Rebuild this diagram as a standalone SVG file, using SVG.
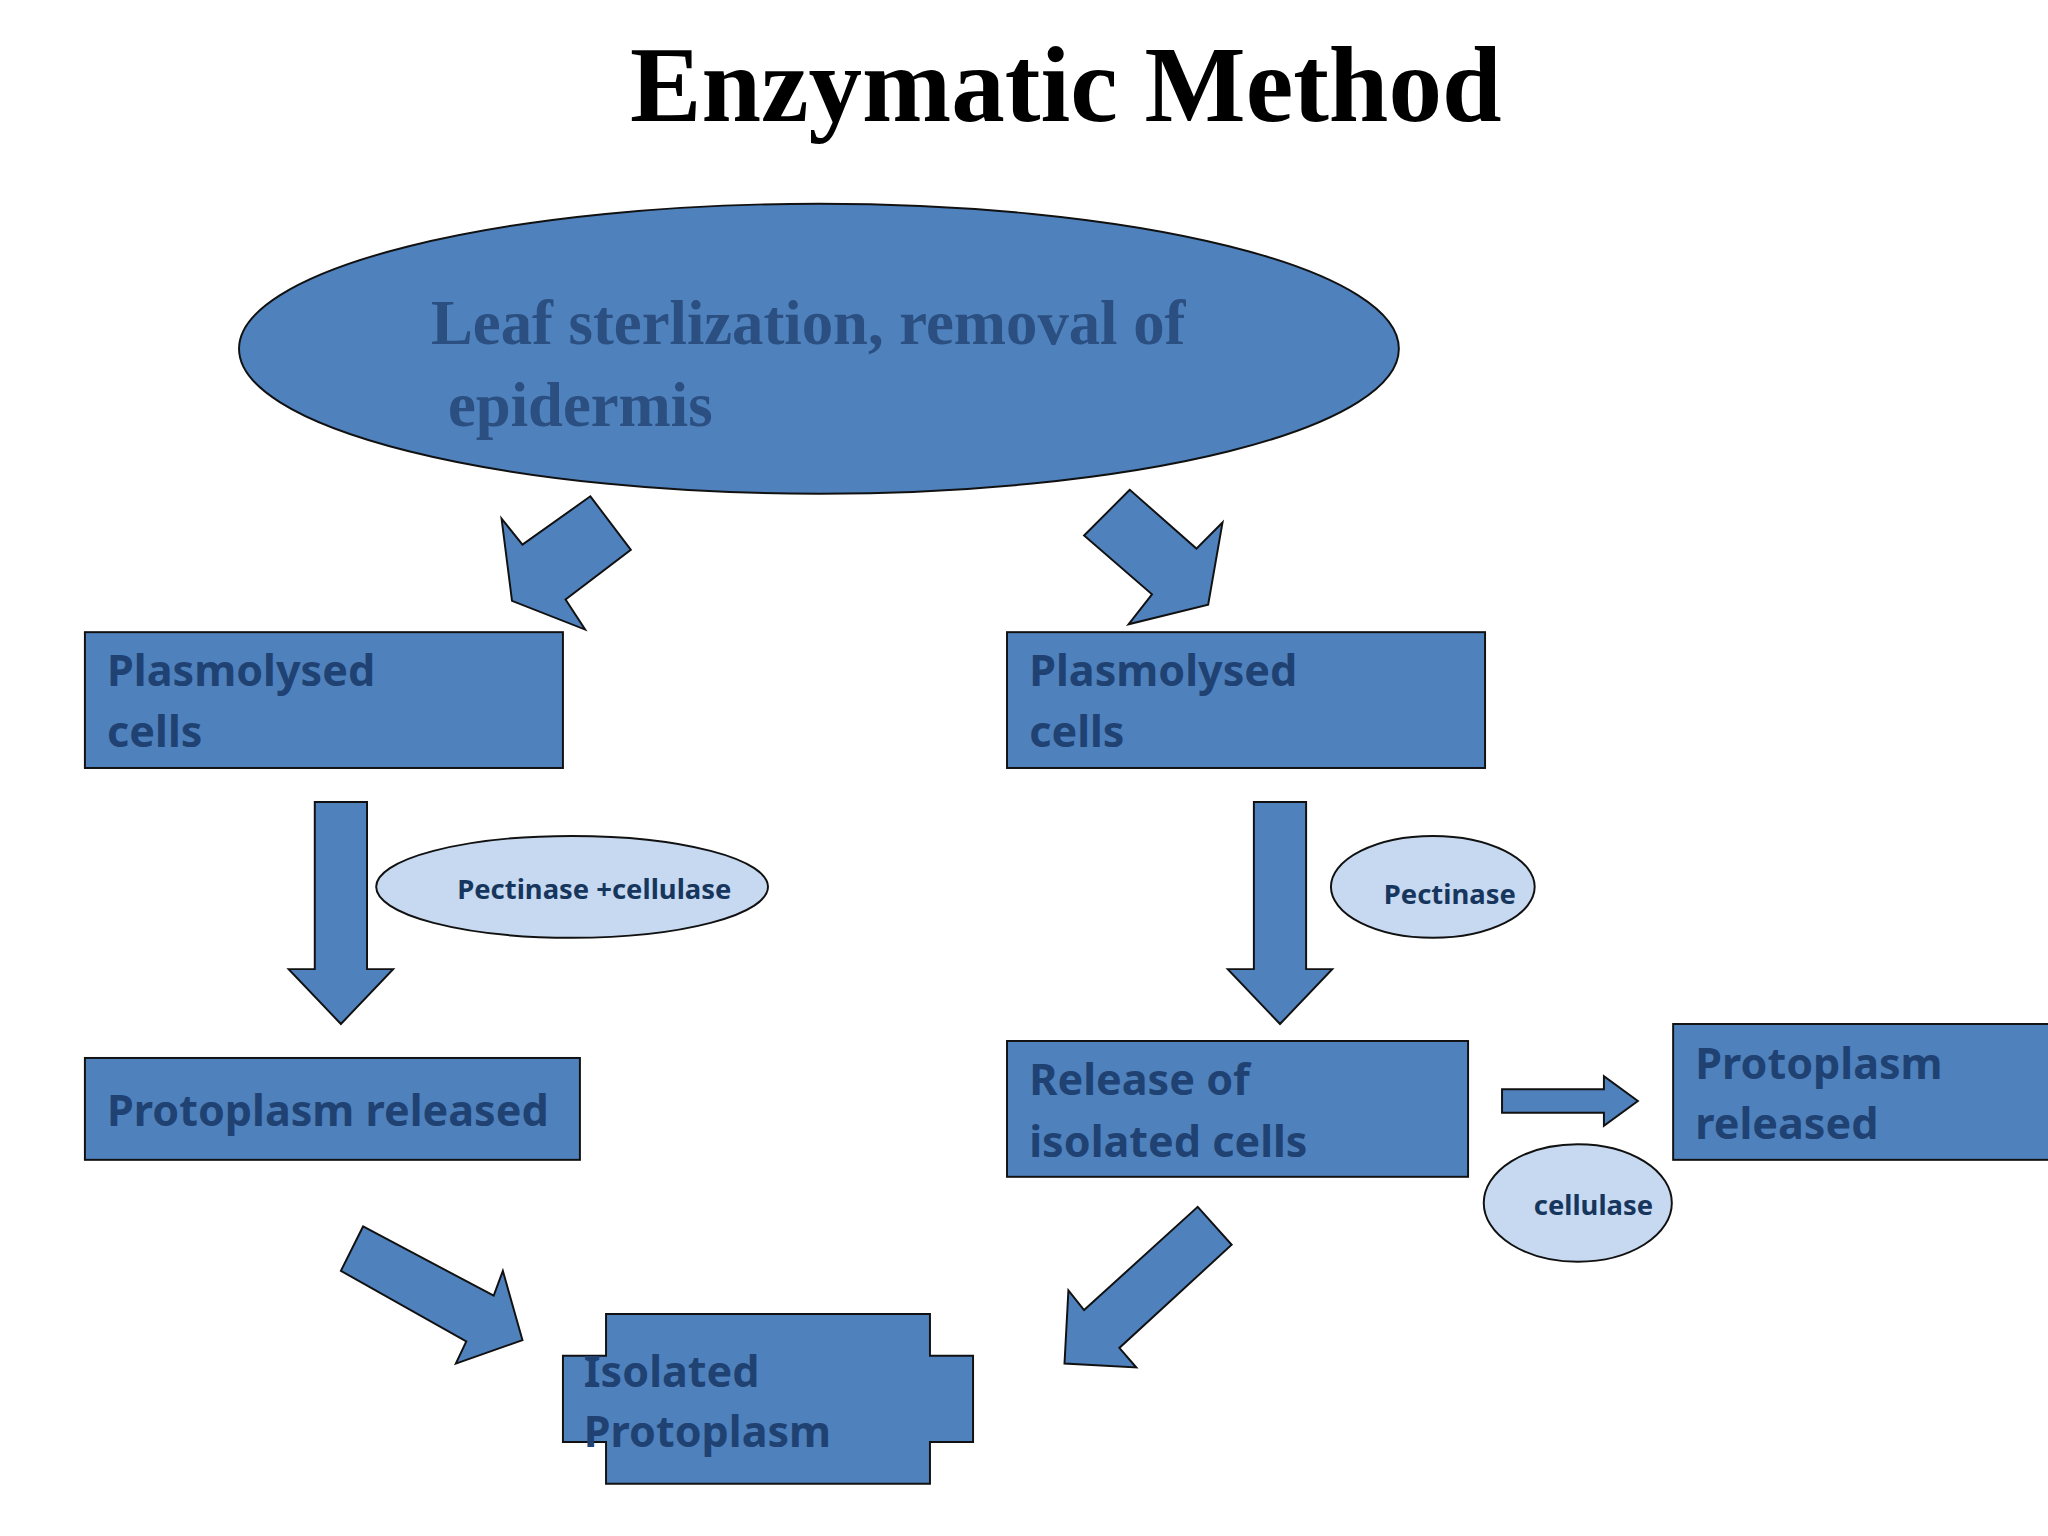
<svg xmlns="http://www.w3.org/2000/svg" width="2048" height="1536" viewBox="0 0 2048 1536">
<style>
.sh{fill:#4f81bd;stroke:#111;stroke-width:1.5}
.lt{fill:#c6d9f0;stroke:#111;stroke-width:1.5}
.t{font-family:"Noto Sans","Open Sans",sans-serif;font-weight:bold;font-size:33px;fill:#1f4273}
.s{font-family:"Noto Sans","Open Sans",sans-serif;font-weight:bold;font-size:21px;fill:#17365d}
.sf{font-family:"Liberation Serif",serif;font-weight:bold;font-size:48px;fill:#2a4f80}
</style>
<rect width="2048" height="1536" fill="#fff"/>
<g transform="scale(1.30612)">
<text x="816" y="93" text-anchor="middle" font-family="Liberation Serif,serif" font-weight="bold" font-size="82" fill="#000">Enzymatic Method</text>
<g id="leaf"><ellipse class="sh" cx="627" cy="267" rx="444" ry="111"/><text class="sf" x="330" y="263">Leaf sterlization, removal of</text><text class="sf" x="343" y="326">epidermis</text></g>
<g id="connectors">
<polygon class="sh" points="452,380 483,421 433,459 448,482 392,460 384,397 400,417"/>
<polygon class="sh" points="865,375 830,410 882,455 864,478 925,463 936,400 916,420"/>
<polygon class="sh" points="241,614 281,614 281,742 301,742 261,784 221,742 241,742"/>
<polygon class="sh" points="960,614 1000,614 1000,742 1020,742 980,784 940,742 960,742"/>
<polygon class="sh" points="1150,834 1228,834 1228,824 1254,843 1228,862 1228,852 1150,852"/>
<polygon class="sh" points="278,939 378,992 385,973 400,1026 349,1044 357,1027 261,973"/>
<polygon class="sh" points="917,924 943,953 857,1032 870,1047 815,1044 818,988 830,1003"/>
</g>
<g id="plas1"><rect class="sh" x="65" y="484" width="366" height="104"/><text class="t" x="82" y="525">Plasmolysed</text><text class="t" x="82" y="572">cells</text></g>
<g id="plas2"><rect class="sh" x="771" y="484" width="366" height="104"/><text class="t" x="788" y="525">Plasmolysed</text><text class="t" x="788" y="572">cells</text></g>
<g id="enz1"><ellipse class="lt" cx="438" cy="679" rx="150" ry="39"/><text class="s" x="455" y="688" text-anchor="middle">Pectinase +cellulase</text></g>
<g id="enz2"><ellipse class="lt" cx="1097" cy="679" rx="78" ry="39"/><text class="s" x="1110" y="692" text-anchor="middle">Pectinase</text></g>
<g id="prot1"><rect class="sh" x="65" y="810" width="379" height="78"/><text class="t" x="82" y="862">Protoplasm released</text></g>
<g id="release"><rect class="sh" x="771" y="797" width="353" height="104"/><text class="t" x="788" y="838">Release of</text><text class="t" x="788" y="886">isolated cells</text></g>
<g id="prot2"><rect class="sh" x="1281" y="784" width="300" height="104"/><text class="t" x="1298" y="826">Protoplasm</text><text class="t" x="1298" y="872">released</text></g>
<g id="enz3"><ellipse class="lt" cx="1208" cy="921" rx="72" ry="45"/><text class="s" x="1220" y="930" text-anchor="middle">cellulase</text></g>
<g id="isolated"><polygon class="sh" points="464,1006 712,1006 712,1038 745,1038 745,1104 712,1104 712,1136 464,1136 464,1104 431,1104 431,1038 464,1038"/><text class="t" x="447" y="1062">Isolated</text><text class="t" x="447" y="1108">Protoplasm</text></g>
</g>
</svg>
